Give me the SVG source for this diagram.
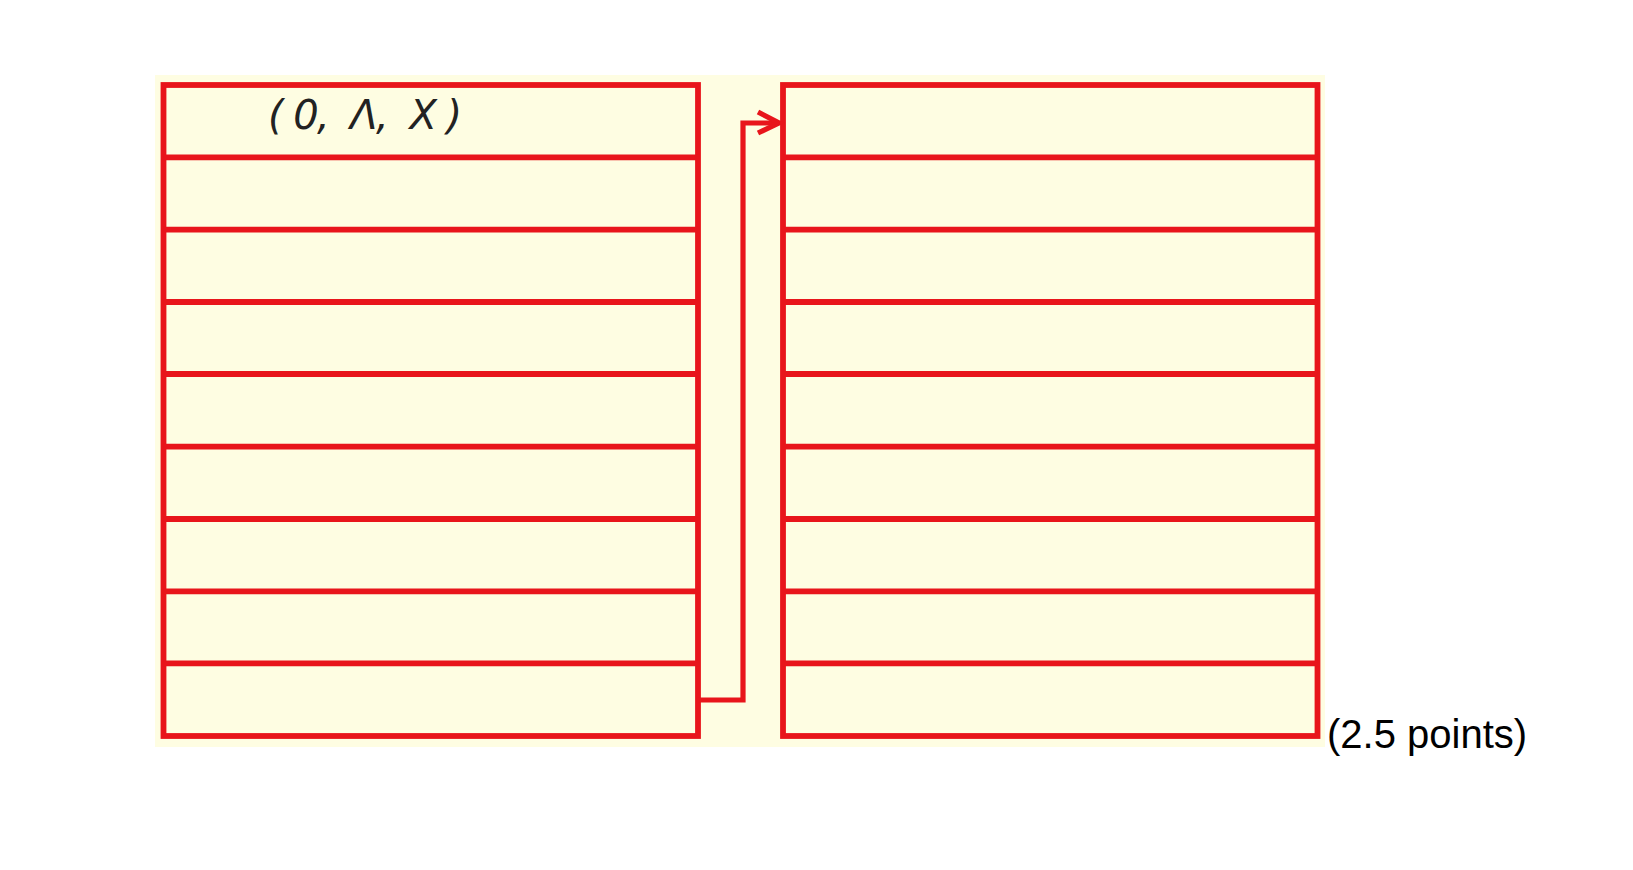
<svg xmlns="http://www.w3.org/2000/svg" width="1633" height="870" viewBox="0 0 1633 870">
<style>
.box{fill:none;stroke:#E8151B;stroke-width:5.8;stroke-linejoin:miter}
.row{stroke:#E8151B;stroke-width:5.8}
.conn{fill:none;stroke:#E8151B;stroke-width:5.2;stroke-linejoin:miter}
.lbl{font-family:"DejaVu Sans","Open Sans",sans-serif;font-style:italic;font-size:40px;fill:#222;white-space:pre}
.note{font-family:"Liberation Sans",Arial,sans-serif;font-size:40px;fill:#000}
</style>
<rect x="155" y="75" width="1170" height="672" fill="#FEFDE2"/>
<g id="left-table">
<rect class="box" x="163.5" y="85" width="534.5" height="651"/>
<g class="row">
<line x1="163.5" y1="157.3" x2="698" y2="157.3"/>
<line x1="163.5" y1="229.7" x2="698" y2="229.7"/>
<line x1="163.5" y1="302" x2="698" y2="302"/>
<line x1="163.5" y1="374" x2="698" y2="374"/>
<line x1="163.5" y1="446.7" x2="698" y2="446.7"/>
<line x1="163.5" y1="519" x2="698" y2="519"/>
<line x1="163.5" y1="591.3" x2="698" y2="591.3"/>
<line x1="163.5" y1="663.3" x2="698" y2="663.3"/>
</g>
<text class="lbl" x="268" y="129" xml:space="preserve" textLength="194" lengthAdjust="spacing">( 0,  Λ,  X )</text>
</g>
<g id="right-table">
<rect class="box" x="783" y="85" width="534.5" height="651"/>
<g class="row">
<line x1="783" y1="157.3" x2="1317.5" y2="157.3"/>
<line x1="783" y1="229.7" x2="1317.5" y2="229.7"/>
<line x1="783" y1="302" x2="1317.5" y2="302"/>
<line x1="783" y1="374" x2="1317.5" y2="374"/>
<line x1="783" y1="446.7" x2="1317.5" y2="446.7"/>
<line x1="783" y1="519" x2="1317.5" y2="519"/>
<line x1="783" y1="591.3" x2="1317.5" y2="591.3"/>
<line x1="783" y1="663.3" x2="1317.5" y2="663.3"/>
</g>
</g>
<g id="connectors">
<path class="conn" d="M698,700 H743 V123 H778"/>
<path class="conn" d="M758,112 L779,123 L758,133"/>
</g>
<text class="note" x="1327" y="748">(2.5 points)</text>
</svg>
